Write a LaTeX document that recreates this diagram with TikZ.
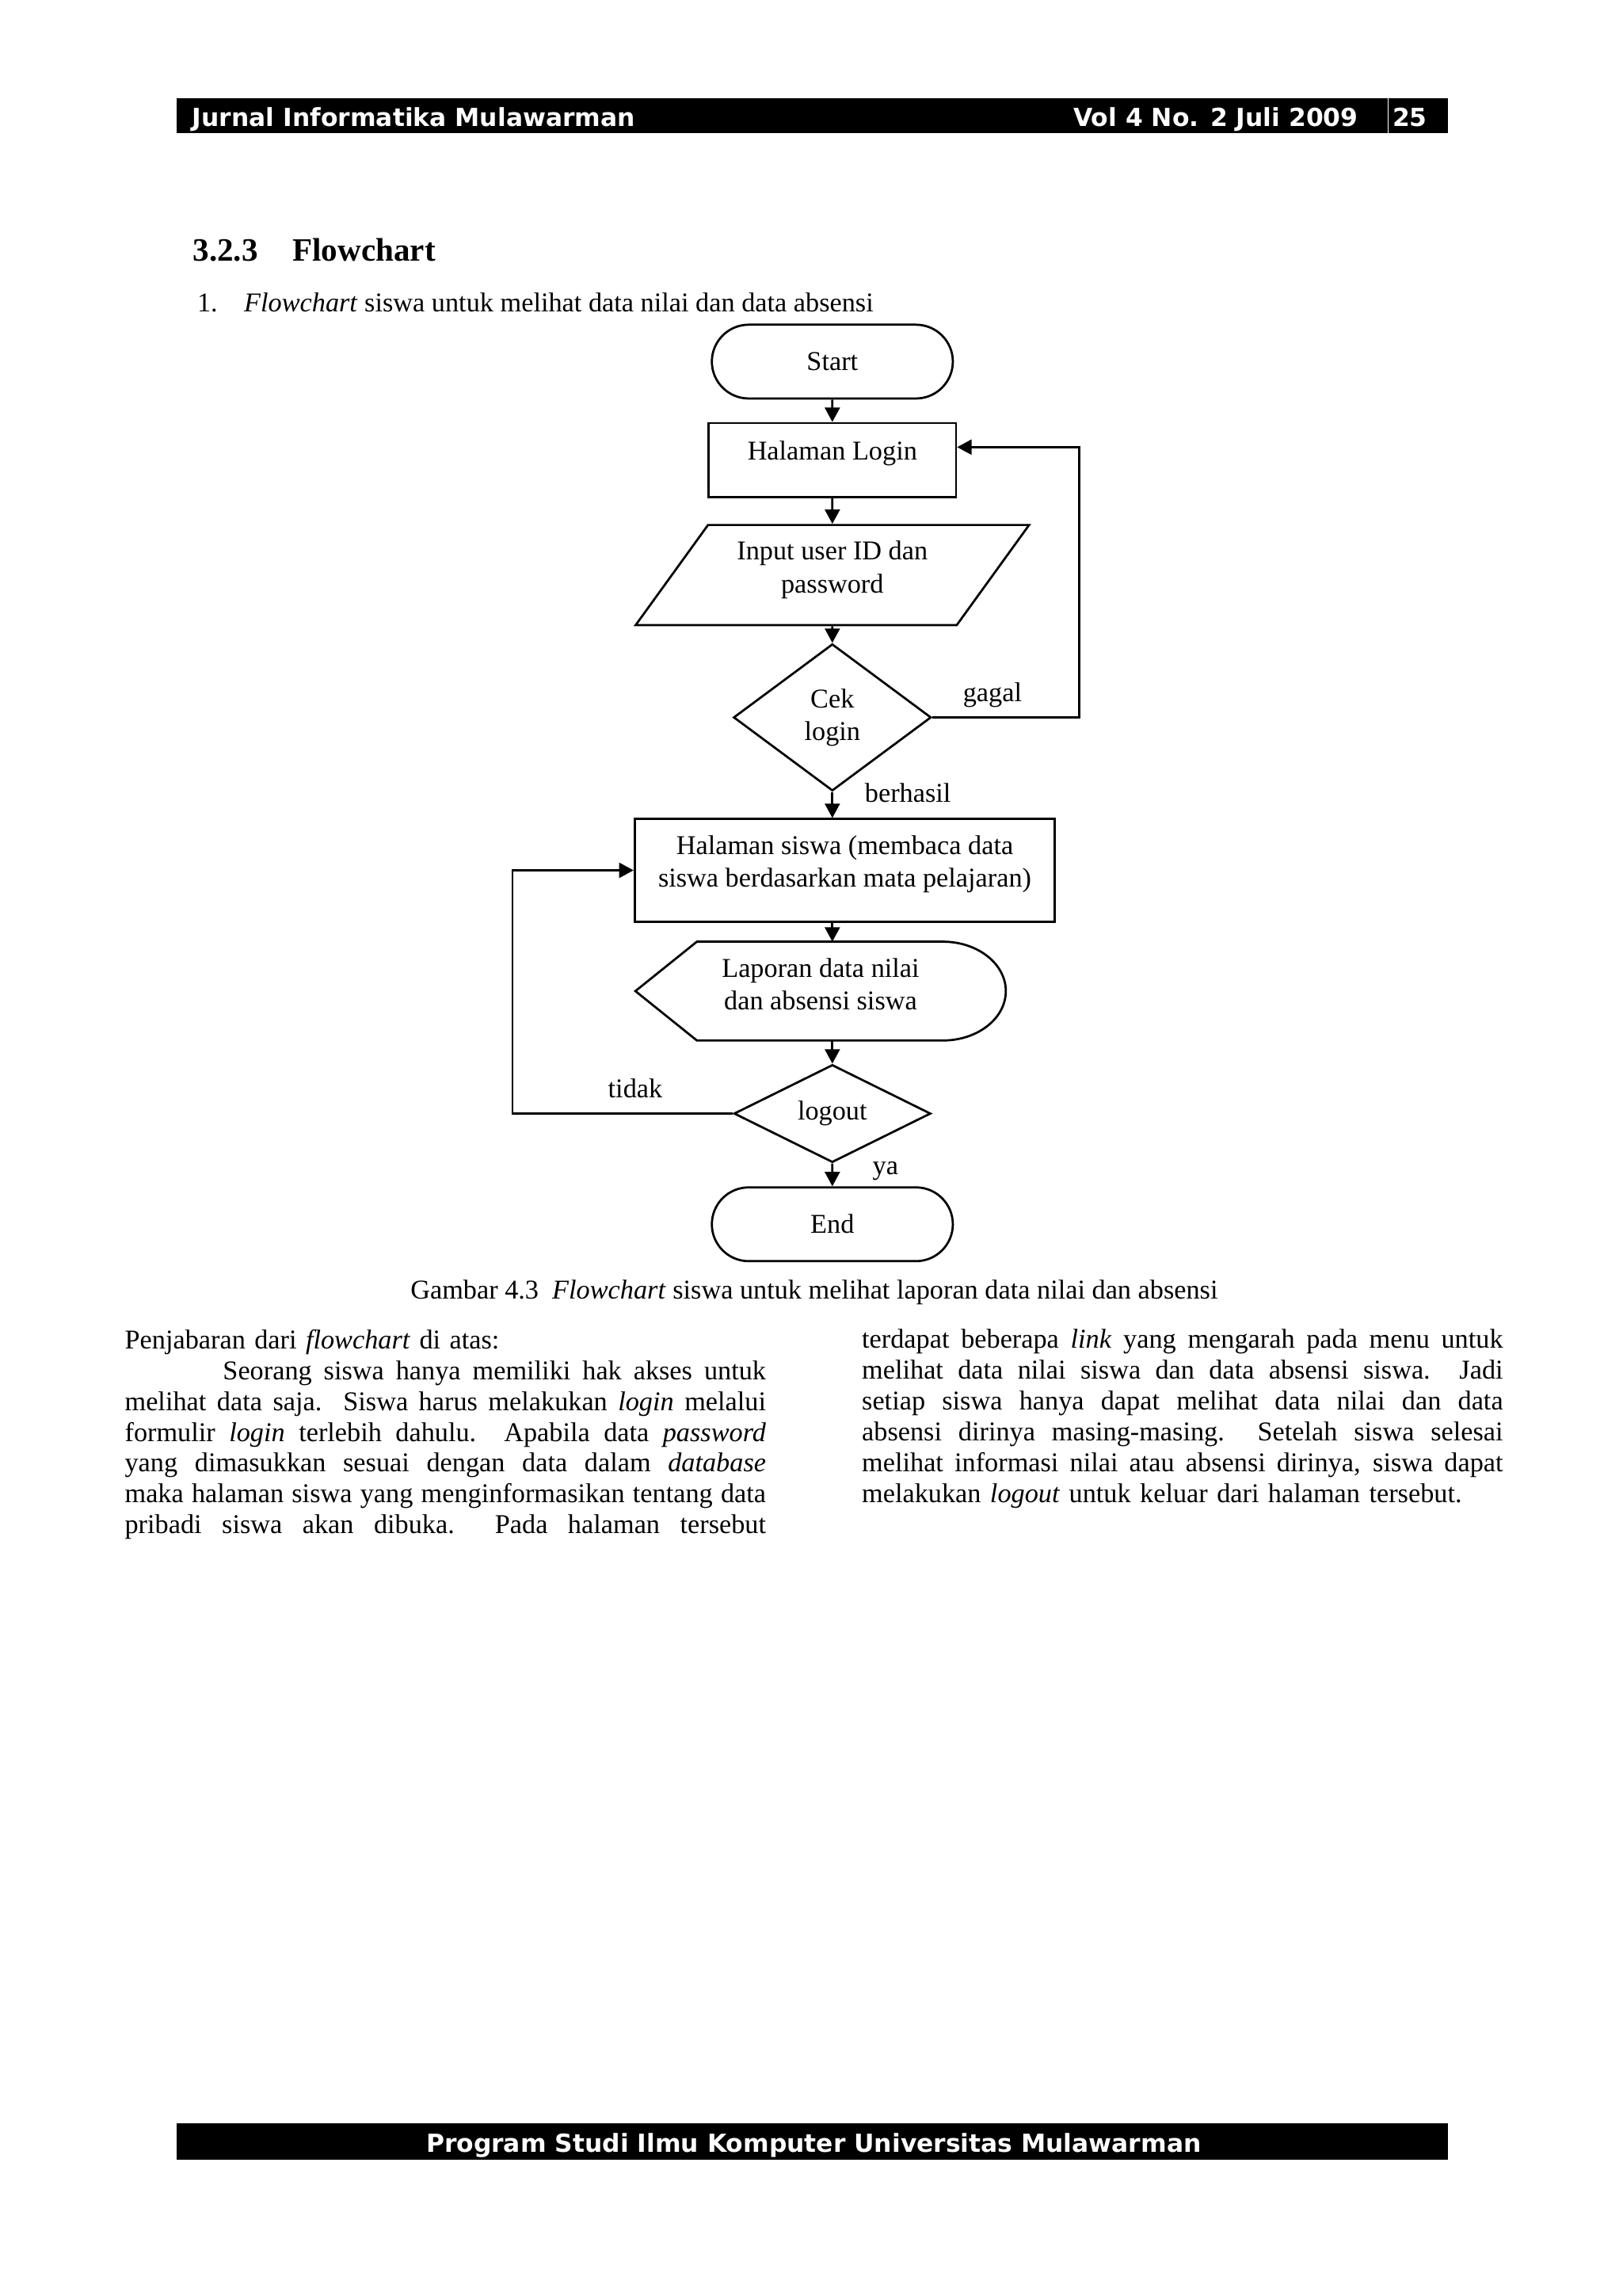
\documentclass[tikz,border=0pt]{standalone}
\usepackage{fontspec}
\setmainfont{Liberation Serif}
\newfontfamily\hdrfont{DejaVu Sans}
\usepackage{tikz}
\usetikzlibrary{arrows.meta, shapes.geometric, shapes.misc, calc}

\newlength{\colw}
\setlength{\colw}{8.30cm}
\newcommand{\jline}[1]{\makebox[\colw][s]{\spaceskip=0.25em plus 1em minus 0.08em\relax #1}}

\begin{document}
\begin{tikzpicture}[
  font=\fontsize{10}{12}\selectfont,
  line width=0.8pt,
  term/.style={draw, rounded rectangle, minimum width=3.19cm,
               minimum height=0.955cm, inner sep=1pt},
  proc/.style={draw, rectangle, align=center, inner sep=1pt},
  inout/.style={draw, trapezium, trapezium left angle=52,
                trapezium right angle=128, trapezium stretches=true,
                align=center, inner sep=1pt},
  decision/.style={draw, diamond, align=center, inner sep=0pt},
  lbl/.style={inner sep=3.33pt},
  txt/.style={inner sep=0pt, anchor=base west},
  hdr/.style={text=white, inner sep=0pt,
              font=\hdrfont\bfseries\fontsize{9.15}{11}\selectfont},
  normal/.style={-{Triangle[length=5.3pt, width=5.5pt]}}
]

\useasboundingbox (0,0) rectangle (21,-29.716);
\fill[white] (0,0) rectangle (21,-29.716);

%% Header and footer bars
\fill[black] (2.284,-1.270) rectangle (18.745,-1.727);
\draw[white, line width=0.5pt] (17.97,-1.270) -- (17.97,-1.727);
\node[hdr, anchor=base west] (jname) at (2.477,-1.634) {Jurnal Informatika Mulawarman};
\node[hdr, anchor=base east] (jvol)  at (17.594,-1.634) {Vol 4 No. 2 Juli 2009};
\node[hdr, anchor=base east] (jpage) at (18.489,-1.634) {25};

\fill[black] (2.284,-27.482) rectangle (18.745,-27.948);
\node[hdr, anchor=base] (prodi) at (10.534,-27.857)
     {Program Studi Ilmu Komputer Universitas Mulawarman};

%% Section heading
\node[txt, font=\bfseries\fontsize{12}{14}\selectfont] (secnum) at (2.483,-3.383) {3.2.3};
\node[txt, font=\bfseries\fontsize{12}{14}\selectfont] (sectitle) at (3.772,-3.383) {Flowchart};
\node[txt] (itemnum) at (2.54,-4.037) {1.};
\node[txt] (itemtxt) at (3.146,-4.037)
     {\textit{Flowchart} siswa untuk melihat data nilai dan data absensi};

%% Flowchart
\node[term] (start) at (10.775,-4.680) {Start};
\node[proc, minimum width=3.203cm, minimum height=0.957cm,
      text depth=6.8pt] (login) at (10.775,-5.954) {Halaman Login};
\node[inout, minimum width=5.095cm, minimum height=1.297cm,
      text depth=6pt] (inp) at (10.775,-7.443) {Input user ID dan\\password};
\node[decision, aspect=1.35, minimum width=2.559cm,
      minimum height=1.901cm] (cek) at (10.775,-9.285) {Cek\\login};
\node[proc, minimum width=5.44cm, minimum height=1.327cm,
      text depth=6.4pt] (siswa) at (10.936,-11.264)
     {Halaman siswa (membaca data\\siswa berdasarkan mata pelajaran)};
\node[minimum width=4.795cm, minimum height=1.279cm, align=center,
      inner sep=1pt, outer sep=0pt, text depth=5.2pt] (lap) at (10.623,-12.827)
     {Laporan data nilai\\dan absensi siswa};
\draw (lap.west) -- ([xshift=0.796cm]lap.north west)
      -- ([xshift=-0.815cm]lap.north east)
      arc[start angle=90, end angle=-90, x radius=0.815cm, y radius=0.6395cm]
      -- ([xshift=0.796cm]lap.south west) -- cycle;
\node[decision, aspect=2, minimum width=2.547cm,
      minimum height=1.264cm] (logout) at (10.775,-14.412) {logout};
\node[term] (end) at (10.775,-15.845) {End};

\coordinate (gagalx) at (13.968,-5.787);
\coordinate (tidakx) at (6.634,-11.264);

\draw[normal] (start) -- (login);
\draw[normal] (login) -- (inp);
\draw[normal] (inp) -- (cek);
\draw[normal] (cek) -- node[lbl, anchor=west, xshift=0.29cm, pos=0.05]{berhasil}
              (cek.south |- siswa.north);
\draw[normal] (cek.east) -- node[lbl, above, pos=0.41]{gagal} (cek.east -| gagalx)
              -- (gagalx) -- (gagalx -| login.east);
\draw[normal] (siswa.south -| cek) -- (lap.north -| cek);
\draw[normal] (lap.south -| cek) -- (logout);
\draw[normal] (logout) -- node[lbl, anchor=west, xshift=0.39cm, pos=0.33]{ya} (end);
\draw[normal] (logout.west) -- node[lbl, above, pos=0.443, yshift=2pt]{tidak}
              (logout.west -| tidakx) -- (tidakx) -- (siswa.west);

%% Caption and text columns
\node[inner sep=0pt, anchor=base] (caption) at (10.54,-16.81)
     {Gambar 4.3\ \ \textit{Flowchart} siswa untuk melihat laporan data nilai dan absensi};

\node[inner sep=0pt, anchor=north west, text width=\colw, align=left,
      font=\fontsize{10}{11.35}\selectfont] (colleft) at (1.602,-17.194)
     {Penjabaran dari \textit{flowchart} di atas:\\
      \jline{\hspace*{1.27cm}Seorang siswa hanya memiliki hak akses untuk}\\
      \jline{melihat data saja.\ \ Siswa harus melakukan \textit{login} melalui}\\
      \jline{formulir \textit{login} terlebih dahulu.\ \ Apabila data \textit{password}}\\
      \jline{yang dimasukkan sesuai dengan data dalam \textit{database}}\\
      \jline{maka halaman siswa yang menginformasikan tentang data}\\
      \jline{pribadi siswa akan dibuka.\ \ Pada halaman tersebut}};

\node[inner sep=0pt, anchor=north west, text width=\colw, align=left,
      font=\fontsize{10}{11.35}\selectfont] (colright) at (11.144,-17.194)
     {\jline{terdapat beberapa \textit{link} yang mengarah pada menu untuk}\\
      \jline{melihat data nilai siswa dan data absensi siswa.\ \ Jadi}\\
      \jline{setiap siswa hanya dapat melihat data nilai dan data}\\
      \jline{absensi dirinya masing-masing.\ \ Setelah siswa selesai}\\
      \jline{melihat informasi nilai atau absensi dirinya, siswa dapat}\\
      melakukan \textit{logout} untuk keluar dari halaman tersebut.};

\end{tikzpicture}
\end{document}
